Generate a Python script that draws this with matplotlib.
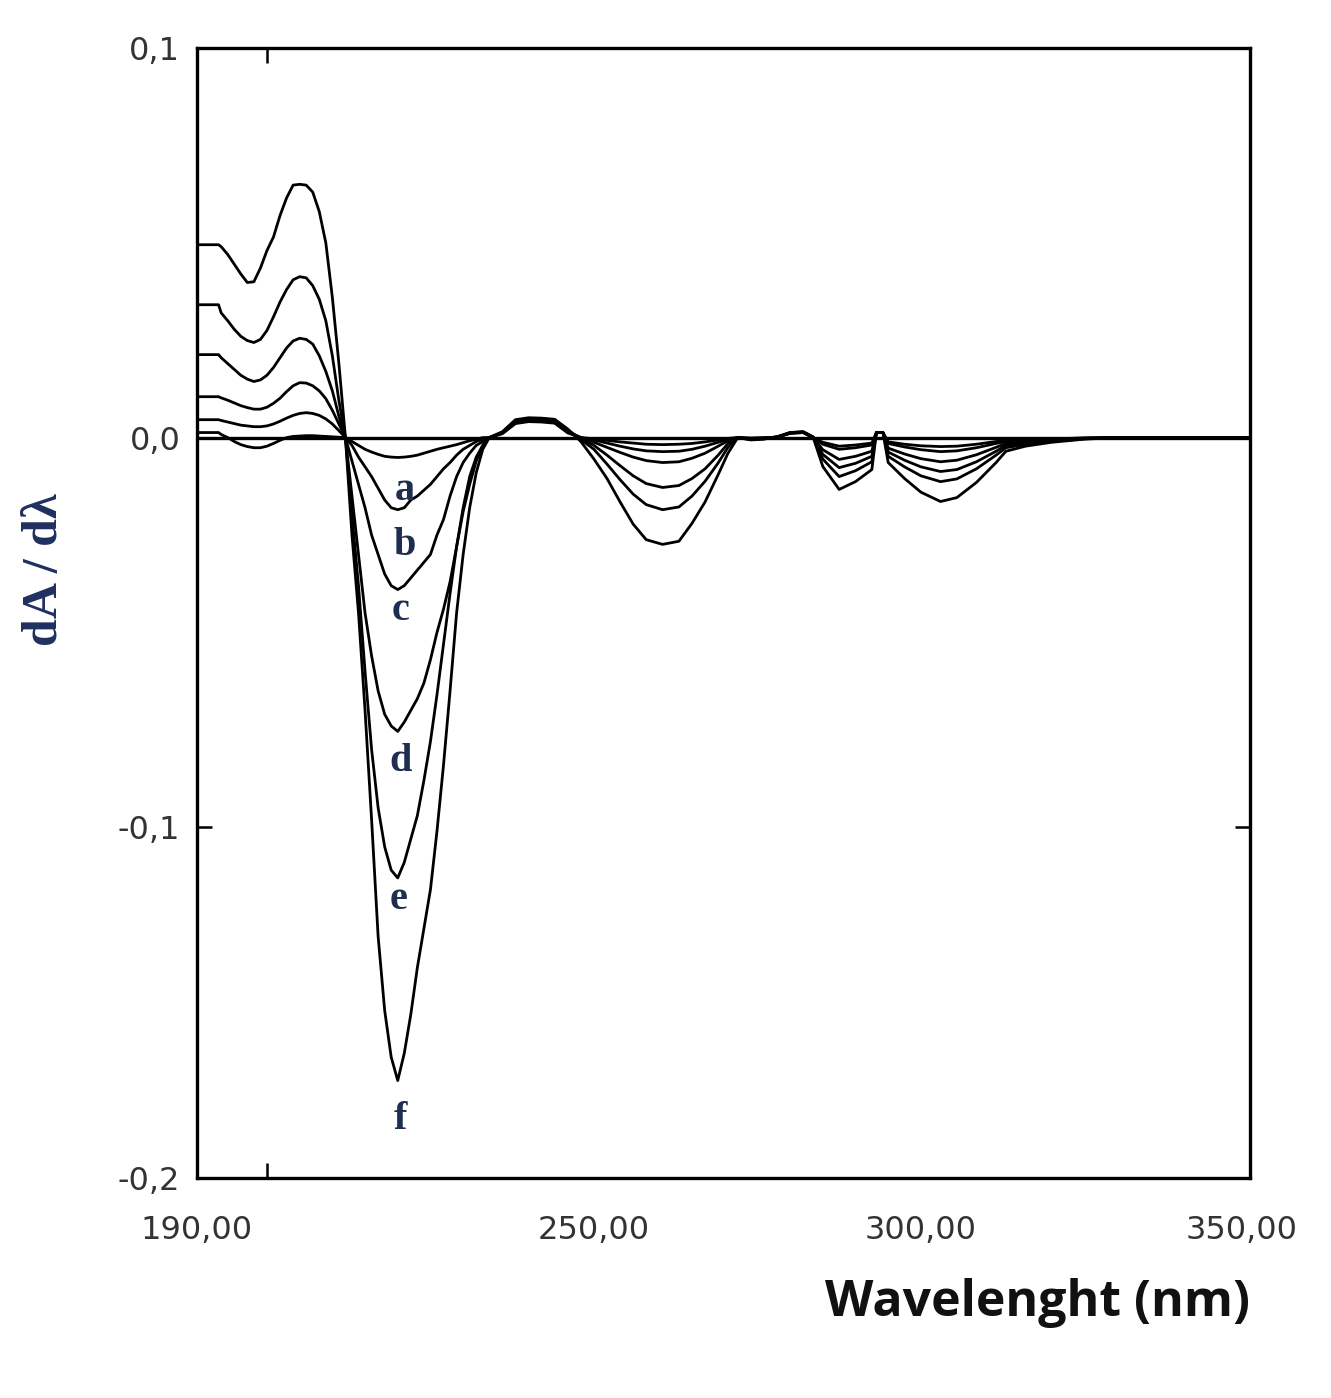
import matplotlib.pyplot as plt

# wavelength grid (nm)
wavelength = [189.3, 192.6, 193, 194, 195, 196, 197, 198, 199, 200, 201, 202, 203, 204, 205, 206, 207, 208, 209, 210, 211, 212,
              213, 214, 215, 216, 217, 218, 219, 220, 221, 222, 223, 224, 225, 226, 227, 228, 229, 230, 231, 232, 233, 234,
              236, 238, 240, 242, 244, 246, 248,
              250, 252, 254, 256, 258, 260.5, 263, 265, 267, 269, 270.5, 272,
              274, 276, 278, 280, 282, 283.5,
              285, 287.5, 290, 292.5, 293.2, 294.2, 295, 297.5, 300, 303, 305.5, 308.5, 311.5, 313, 316, 320, 325, 330, 350.3]

curve_f = [0.0495, 0.0495, 0.049, 0.047, 0.0445, 0.042, 0.0398, 0.040, 0.0435, 0.048, 0.0515, 0.057, 0.0615, 0.0648, 0.065, 0.0648, 0.063, 0.058, 0.050, 0.036, 0.019, 0.0,
           -0.025, -0.045, -0.070, -0.098, -0.128, -0.147, -0.159, -0.165, -0.158, -0.148, -0.136, -0.126, -0.116, -0.101, -0.084, -0.065, -0.045, -0.030, -0.018, -0.009, -0.003, 0.0,
           0.0015, 0.0046, 0.0051, 0.0050, 0.0047, 0.0022, -0.0010,
           -0.0055, -0.0105, -0.0165, -0.0222, -0.0262, -0.0274, -0.0266, -0.022, -0.0165, -0.0095, -0.004, 0.0,
           -0.0006, -0.0004, 0.0002, 0.0013, 0.0015, 0.0002,
           -0.0074, -0.0133, -0.0113, -0.0082, 0.0013, 0.0013, -0.0064, -0.0105, -0.0140, -0.0164, -0.0154, -0.0115, -0.0064, -0.0035, -0.0022, -0.0012, -0.0004, 0.0, 0.0]

curve_e = [0.0341, 0.0341, 0.032, 0.030, 0.0278, 0.026, 0.0249, 0.0244, 0.0252, 0.0275, 0.031, 0.0348, 0.038, 0.0405, 0.0413, 0.041, 0.039, 0.0355, 0.030, 0.021, 0.0095, 0.0,
           -0.020, -0.038, -0.060, -0.080, -0.095, -0.105, -0.111, -0.113, -0.109, -0.103, -0.097, -0.088, -0.078, -0.066, -0.053, -0.040, -0.028, -0.018, -0.010, -0.005, -0.002, 0.0,
           0.0014, 0.0044, 0.0049, 0.0048, 0.0045, 0.0020, -0.0005,
           -0.003, -0.0068, -0.0108, -0.0145, -0.0172, -0.0185, -0.0178, -0.0150, -0.0112, -0.0065, -0.0025, 0.0,
           -0.0005, -0.0003, 0.0002, 0.0013, 0.0015, 0.0002,
           -0.0055, -0.010, -0.0085, -0.0062, 0.0013, 0.0013, -0.0048, -0.0075, -0.0098, -0.0113, -0.0106, -0.0080, -0.0045, -0.0026, -0.0017, -0.0010, -0.0003, 0.0, 0.0]

curve_d = [0.0213, 0.0213, 0.0205, 0.019, 0.0175, 0.016, 0.0150, 0.0144, 0.0148, 0.016, 0.018, 0.0205, 0.023, 0.0248, 0.0255, 0.0252, 0.024, 0.021, 0.017, 0.012, 0.0055, 0.0,
           -0.015, -0.030, -0.045, -0.056, -0.065, -0.071, -0.074, -0.0754, -0.073, -0.070, -0.067, -0.063, -0.057, -0.050, -0.044, -0.037, -0.028, -0.019, -0.012, -0.006, -0.002, 0.0,
           0.0013, 0.0042, 0.0047, 0.0046, 0.0043, 0.0018, -0.0003,
           -0.002, -0.0045, -0.0072, -0.0098, -0.0118, -0.0128, -0.0123, -0.0105, -0.0080, -0.0045, -0.0015, 0.0,
           -0.0004, -0.0002, 0.0002, 0.0012, 0.0014, 0.0001,
           -0.0043, -0.0077, -0.0066, -0.0048, 0.0013, 0.0013, -0.0037, -0.0058, -0.0075, -0.0087, -0.0082, -0.0062, -0.0035, -0.0020, -0.0013, -0.0008, -0.0002, 0.0, 0.0]

curve_c = [0.0105, 0.0105, 0.0102, 0.0096, 0.0089, 0.0082, 0.0077, 0.0073, 0.0073, 0.0078, 0.0088, 0.0101, 0.0118, 0.0133, 0.0141, 0.0140, 0.0133, 0.0120, 0.0100, 0.0070, 0.0035, 0.0,
           -0.006, -0.012, -0.018, -0.025, -0.030, -0.035, -0.038, -0.039, -0.038, -0.036, -0.034, -0.032, -0.030, -0.025, -0.021, -0.015, -0.010, -0.0064, -0.004, -0.002, -0.001, 0.0,
           0.0012, 0.0040, 0.0045, 0.0044, 0.0041, 0.0016, 0.0,
           -0.0012, -0.0025, -0.0038, -0.0050, -0.0059, -0.0064, -0.0062, -0.0053, -0.0040, -0.0022, -0.0008, 0.0,
           -0.0003, -0.0002, 0.0001, 0.0012, 0.0014, 0.0001,
           -0.0031, -0.0056, -0.0048, -0.0035, 0.0013, 0.0013, -0.0027, -0.0042, -0.0054, -0.0062, -0.0058, -0.0044, -0.0025, -0.0015, -0.0010, -0.0006, -0.0002, 0.0, 0.0]

curve_b = [0.0046, 0.0046, 0.0044, 0.0040, 0.0036, 0.0032, 0.0030, 0.0028, 0.0028, 0.0030, 0.0035, 0.0042, 0.0050, 0.0057, 0.0062, 0.0064, 0.0062, 0.0057, 0.0048, 0.0035, 0.0018, 0.0,
           -0.002, -0.005, -0.0075, -0.010, -0.013, -0.016, -0.018, -0.0185, -0.018, -0.016, -0.015, -0.0135, -0.012, -0.010, -0.008, -0.0064, -0.0045, -0.003, -0.002, -0.001, -0.0004, 0.0,
           0.0011, 0.0038, 0.0043, 0.0042, 0.0039, 0.0014, 0.0,
           -0.0006, -0.0014, -0.0022, -0.0029, -0.0034, -0.0036, -0.0035, -0.0030, -0.0022, -0.0012, -0.0004, 0.0,
           -0.0002, -0.0001, 0.0001, 0.0011, 0.0013, 0.0,
           -0.0017, -0.0030, -0.0026, -0.0019, 0.0013, 0.0013, -0.0015, -0.0024, -0.0031, -0.0036, -0.0034, -0.0026, -0.0015, -0.0010, -0.0007, -0.0004, -0.0001, 0.0, 0.0]

curve_a = [0.0013, 0.0013, 0.0008, 0.0, -0.0010, -0.0018, -0.0023, -0.0026, -0.0026, -0.0022, -0.0015, -0.0007, 0.0, 0.0003, 0.0004, 0.0005, 0.0005, 0.0004, 0.0003, 0.0002, 0.0001, 0.0,
           -0.001, -0.002, -0.003, -0.0037, -0.0043, -0.0048, -0.005, -0.0051, -0.005, -0.0048, -0.0045, -0.004, -0.0035, -0.003, -0.0026, -0.0022, -0.0018, -0.0013, -0.0008, -0.0004, 0.0, 0.0,
           0.0010, 0.0036, 0.0041, 0.0040, 0.0037, 0.0012, 0.0,
           -0.0003, -0.0007, -0.0011, -0.0014, -0.0017, -0.0018, -0.0017, -0.0015, -0.0011, -0.0006, -0.0002, 0.0,
           -0.0001, 0.0, 0.0001, 0.0011, 0.0013, 0.0,
           -0.0012, -0.0022, -0.0019, -0.0014, 0.0013, 0.0013, -0.0011, -0.0017, -0.0021, -0.0023, -0.0022, -0.0017, -0.0010, -0.0007, -0.0005, -0.0003, -0.0001, 0.0, 0.0]

curve_labels = ['a', 'b', 'c', 'd', 'e', 'f']
label_x = [221.1, 221.1, 220.4, 220.4, 220.1, 220.4]
label_y = [-0.0159, -0.0300, -0.0467, -0.0856, -0.1210, -0.1774]

x_tick_pos = [189.3, 250, 300, 349]
x_tick_text = ['190,00', '250,00', '300,00', '350,00']
x_tick_marks = [200, 250, 300]
y_tick_pos = [0.1, 0.0, -0.1, -0.19]
y_tick_text = ['0,1', '0,0', '-0,1', '-0,2']

fig = plt.figure(figsize=(13.31, 13.98), dpi=100)
ax = fig.add_axes([0.148, 0.1574, 0.791, 0.8083])

for curve in [curve_a, curve_b, curve_c, curve_d, curve_e, curve_f]:
    ax.plot(wavelength, curve, color='black', lw=2.0)
ax.axhline(0, color='black', lw=2.4)

for lab, lx, ly in zip(curve_labels, label_x, label_y):
    ax.text(lx, ly, lab, ha='center', va='baseline', fontsize=29, fontweight='bold',
            family=['Liberation Serif', 'DejaVu Serif'], color='#1f2d50')

ax.set_xlim(189.3, 350.3)
ax.set_ylim(-0.19, 0.1)

ax.set_xticks(x_tick_pos)
ax.set_xticklabels(x_tick_text)
ax.set_xticks(x_tick_marks, minor=True)
ax.tick_params(axis='x', which='major', length=0, pad=27, labelsize=23, labelcolor='#333333')
ax.tick_params(axis='x', which='minor', direction='in', length=11, width=1.8, top=True, bottom=True)

ax.set_yticks(y_tick_pos)
ax.set_yticklabels(y_tick_text)
ax.tick_params(axis='y', which='major', direction='in', length=11, width=1.8, left=True, right=True,
               pad=12, labelsize=23, labelcolor='#333333')

for s in ax.spines.values():
    s.set_linewidth(2.4)

fig.text(45 / 1331, 1 - 570 / 1398, 'dA / dλ', rotation=90, ha='center', va='center',
         fontsize=36, fontweight='bold', family=['Liberation Serif', 'DejaVu Serif'], color='#1f3060')
fig.text(1250 / 1331, 1 - 1303 / 1398, 'Wavelenght (nm)', ha='right', va='center',
         fontsize=36, fontweight='bold', family=['Open Sans', 'DejaVu Sans'], color='#111111')

fig.savefig('out.png', dpi=100)
